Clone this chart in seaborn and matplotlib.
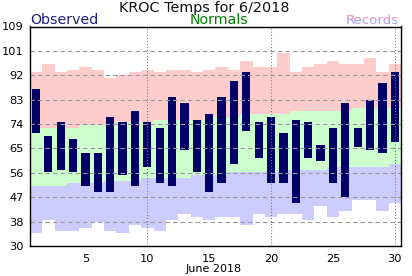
import numpy as np
import pandas as pd
import matplotlib
matplotlib.use("Agg")
import matplotlib.pyplot as plt
from matplotlib.transforms import Bbox
import seaborn as sns

# ---- data (June 2018, KROC) ----
days = list(range(1, 31))
obs_high = [86, 69, 74, 68, 63, 63, 76, 74, 78, 74, 72, 83, 81, 75, 77,
            83, 89, 92, 74, 76, 70, 75, 74, 66, 72, 81, 72, 82, 88, 92]
obs_low = [70, 56, 57, 56, 51, 49, 49, 55, 51, 58, 52, 51, 64, 56, 49,
           52, 59, 71, 61, 52, 52, 45, 61, 60, 52, 47, 65, 64, 63, 67]
norm_high = [72, 72, 72, 72, 73, 73, 73, 74, 74, 74, 75, 75, 75, 75, 76,
             76, 76, 77, 77, 77, 77, 78, 78, 78, 78, 78, 79, 79, 79, 79]
norm_low = [51, 51, 51, 52, 52, 52, 53, 53, 53, 54, 54, 54, 54, 55, 55,
            55, 56, 56, 56, 56, 57, 57, 57, 57, 58, 58, 58, 58, 58, 59]
rec_high = [92, 95, 92, 93, 94, 93, 90, 91, 92, 93, 92, 93, 93, 92, 93,
            94, 93, 96, 94, 94, 99, 92, 94, 95, 96, 95, 95, 97, 92, 95]
rec_low = [34, 39, 35, 35, 36, 38, 35, 34, 37, 36, 35, 39, 41, 40, 39,
           40, 40, 37, 41, 40, 41, 41, 39, 44, 40, 42, 46, 46, 42, 45]
ytick_labels = ["30", "38", "47", "56", "65", "74", "83", "92", "101", "109"]
xtick_major = [5, 10, 15, 20, 25, 30]
vlines_days = [10, 20, 30]
title = "KROC Temps for 6/2018"
xlabel = "June 2018"

sns.set_style("white")
plt.rcParams["font.family"] = ["DejaVu Sans"]
plt.rcParams["lines.scale_dashes"] = False

W, H = 412, 276
fig = plt.figure(figsize=(W / 100, H / 100), dpi=100)
ax = fig.add_axes([30.5 / W, 1 - 246 / H, (401 - 30.5) / W, (246 - 26.5) / H])

# bands as steps covering each day
d = np.array(days, dtype=float)
edges = np.append(d - 0.5, d[-1] + 0.5)
def ext(v):
    v = np.asarray(v, dtype=float)
    return np.append(v, v[-1])

ax.fill_between(edges, ext(norm_high), ext(rec_high), step="post",
                color="#ffcccc", linewidth=0, zorder=1)
ax.fill_between(edges, ext(norm_low), ext(norm_high), step="post",
                color="#ccffcc", linewidth=0, zorder=1)
ax.fill_between(edges, ext(rec_low), ext(norm_low), step="post",
                color="#ccccff", linewidth=0, zorder=1)

# observed bars
df = pd.DataFrame({"day": days,
                   "range": np.array(obs_high) - np.array(obs_low),
                   "low": obs_low})
sns.barplot(data=df, x="day", y="range", bottom=df["low"].to_numpy(),
            native_scale=True, width=0.66, color="#000066", saturation=1,
            errorbar=None, linewidth=0, ax=ax, zorder=2)

ax.set_xlim(0.56, 30.5)
ax.set_ylim(29.5, 108.5)
yt = np.linspace(29.5, 108.5, 10)
ax.set_yticks(yt)
ax.set_yticklabels(ytick_labels)
ax.set_xticks(xtick_major)
ax.set_xticklabels([str(v) for v in xtick_major])
ax.set_xticks(days, minor=True)
ax.set_xlabel("")
ax.set_ylabel("")

ax.tick_params(axis="y", length=0, pad=5, labelsize=8.2, colors="black")
ax.tick_params(axis="x", which="both", length=3, width=0.8, direction="out",
               pad=2.5, labelsize=8.2, colors="black")
ax.tick_params(axis="x", which="minor", labelbottom=False)

ax.set_axisbelow(False)
ax.grid(axis="y", color="#999999", linewidth=0.8, linestyle=(0, (3.2, 2.2)))
ax.grid(axis="x", visible=False)
for xv in vlines_days:
    ax.axvline(xv, color="#777777", linewidth=0.8,
               linestyle=(0, (0.75, 1.45)), zorder=3)

for s in ax.spines.values():
    s.set_visible(True)
    s.set_color("black")
    s.set_linewidth(1.0)
    s.set_zorder(4)

fig.text(204.5 / W, 1 - 11.6 / H, title, ha="center", va="baseline",
         fontsize=10.4, color="#111111")
fig.text(30 / W, 1 - 24 / H, "Observed", ha="left", va="baseline",
         fontsize=10.2, color="#1f1f80")
fig.text(189.3 / W, 1 - 24 / H, "Normals", ha="left", va="baseline",
         fontsize=10.2, color="#008000")
# "Records" with a pink-to-lavender look: lavender base, pink upper half
fig.text(399.3 / W, 1 - 24 / H, "Records", ha="right", va="baseline",
         fontsize=9.6, color="#a9a0f5")
t_top = fig.text(399.3 / W, 1 - 24 / H, "Records", ha="right", va="baseline",
                 fontsize=9.6, color="#ff9fb8")
t_top.set_clip_on(True)
t_top.set_clip_box(Bbox([[330, H - 18.5], [405, H - 5]]))

fig.text(213.7 / W, 1 - 271.5 / H, xlabel, ha="center", va="baseline",
         fontsize=8, color="black")

fig.savefig("out.png", dpi=100)
